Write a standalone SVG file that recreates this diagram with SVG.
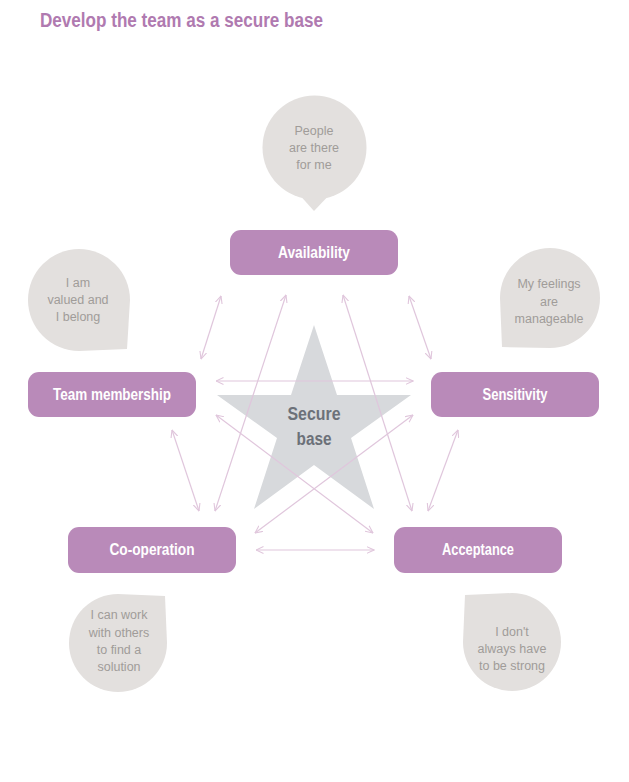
<svg xmlns="http://www.w3.org/2000/svg" width="629" height="782" viewBox="0 0 629 782">
<style>
.title{font-family:"Liberation Sans",Arial,sans-serif;font-weight:bold;font-size:20px;fill:#b07ab0}
.node rect{fill:#b98ab9}
.node text{font-family:"Liberation Sans",Arial,sans-serif;font-weight:bold;font-size:16px;fill:#ffffff;text-anchor:middle}
.bubble{fill:#e3e0de}
.btext{font-family:"Liberation Sans",Arial,sans-serif;font-size:12.5px;fill:#a09c99;text-anchor:middle}
.star{fill:#d7d9dc}
.stext{font-family:"Liberation Sans",Arial,sans-serif;font-weight:bold;font-size:18px;fill:#6c7179;text-anchor:middle}
.conn line{stroke:#e0c6dc;stroke-width:1.2;fill:none;marker-start:url(#ah);marker-end:url(#ah)}
</style>
<defs>
<marker id="ah" viewBox="0 0 8 8" refX="7.5" refY="4" markerWidth="8" markerHeight="8" markerUnits="userSpaceOnUse" orient="auto-start-reverse">
<path d="M0,0.5 L7.5,4 L0,7.5" fill="none" stroke="#e0c6dc" stroke-width="1.1"/>
</marker>
</defs>
<rect width="629" height="782" fill="#ffffff"/>
<text class="title" x="40" y="27" textLength="283" lengthAdjust="spacingAndGlyphs">Develop the team as a secure base</text>

<g id="star">
<polygon class="star" points="314,325 337,395 411,395 351,438 374,509 314,465 254,509 277,438 217,395 291,395"/>
<text class="stext" x="314" y="420" textLength="53" lengthAdjust="spacingAndGlyphs">Secure</text>
<text class="stext" x="314" y="445" textLength="35" lengthAdjust="spacingAndGlyphs">base</text>
</g>

<g id="connectors" class="conn">
<line x1="221" y1="296" x2="201" y2="359"/>
<line x1="409" y1="296" x2="431" y2="359"/>
<line x1="286" y1="295" x2="215" y2="511"/>
<line x1="343" y1="295" x2="412" y2="511"/>
<line x1="216" y1="381" x2="413" y2="381"/>
<line x1="216" y1="415" x2="373" y2="533"/>
<line x1="413" y1="415" x2="255" y2="533"/>
<line x1="256" y1="550" x2="374" y2="550"/>
<line x1="172" y1="430" x2="199" y2="511"/>
<line x1="458" y1="430" x2="428" y2="511"/>
</g>

<g id="bubble-availability">
<circle class="bubble" cx="314.5" cy="147.5" r="52"/>
<polygon class="bubble" points="297,192 314,211 332,192"/>
<text class="btext" x="314" y="135">People</text>
<text class="btext" x="314" y="152">are there</text>
<text class="btext" x="314" y="169">for me</text>
</g>

<g id="bubble-team-membership">
<path class="bubble" d="M130,300 L127,349 L79,351 A51,51 0 1 1 130,300 Z"/>
<text class="btext" x="78" y="287">I am</text>
<text class="btext" x="78" y="304">valued and</text>
<text class="btext" x="78" y="321">I belong</text>
</g>

<g id="bubble-sensitivity">
<path class="bubble" d="M500,298 L502,347 L550,348 A50,50 0 1 0 500,298 Z"/>
<text class="btext" x="549" y="288">My feelings</text>
<text class="btext" x="549" y="306">are</text>
<text class="btext" x="549" y="323">manageable</text>
</g>

<g id="bubble-co-operation">
<path class="bubble" d="M118,594 L165,596 L167,643 A49,49 0 1 1 118,594 Z"/>
<text class="btext" x="119" y="619">I can work</text>
<text class="btext" x="119" y="637">with others</text>
<text class="btext" x="119" y="654">to find a</text>
<text class="btext" x="119" y="671">solution</text>
</g>

<g id="bubble-acceptance">
<path class="bubble" d="M465,595 L512,593 A49,49 0 1 1 463,642 Z"/>
<text class="btext" x="512" y="636">I don't</text>
<text class="btext" x="512" y="653">always have</text>
<text class="btext" x="512" y="670">to be strong</text>
</g>

<g id="node-availability" class="node">
<rect x="230" y="230" width="168" height="45" rx="11"/>
<text x="314" y="258" textLength="72" lengthAdjust="spacingAndGlyphs">Availability</text>
</g>
<g id="node-team-membership" class="node">
<rect x="28" y="372" width="168" height="45" rx="11"/>
<text x="112" y="400" textLength="118" lengthAdjust="spacingAndGlyphs">Team membership</text>
</g>
<g id="node-sensitivity" class="node">
<rect x="431" y="372" width="168" height="45" rx="11"/>
<text x="515" y="400" textLength="65" lengthAdjust="spacingAndGlyphs">Sensitivity</text>
</g>
<g id="node-co-operation" class="node">
<rect x="68" y="527" width="168" height="46" rx="11"/>
<text x="152" y="555" textLength="85" lengthAdjust="spacingAndGlyphs">Co-operation</text>
</g>
<g id="node-acceptance" class="node">
<rect x="394" y="527" width="168" height="46" rx="11"/>
<text x="478" y="555" textLength="72" lengthAdjust="spacingAndGlyphs">Acceptance</text>
</g>
</svg>
